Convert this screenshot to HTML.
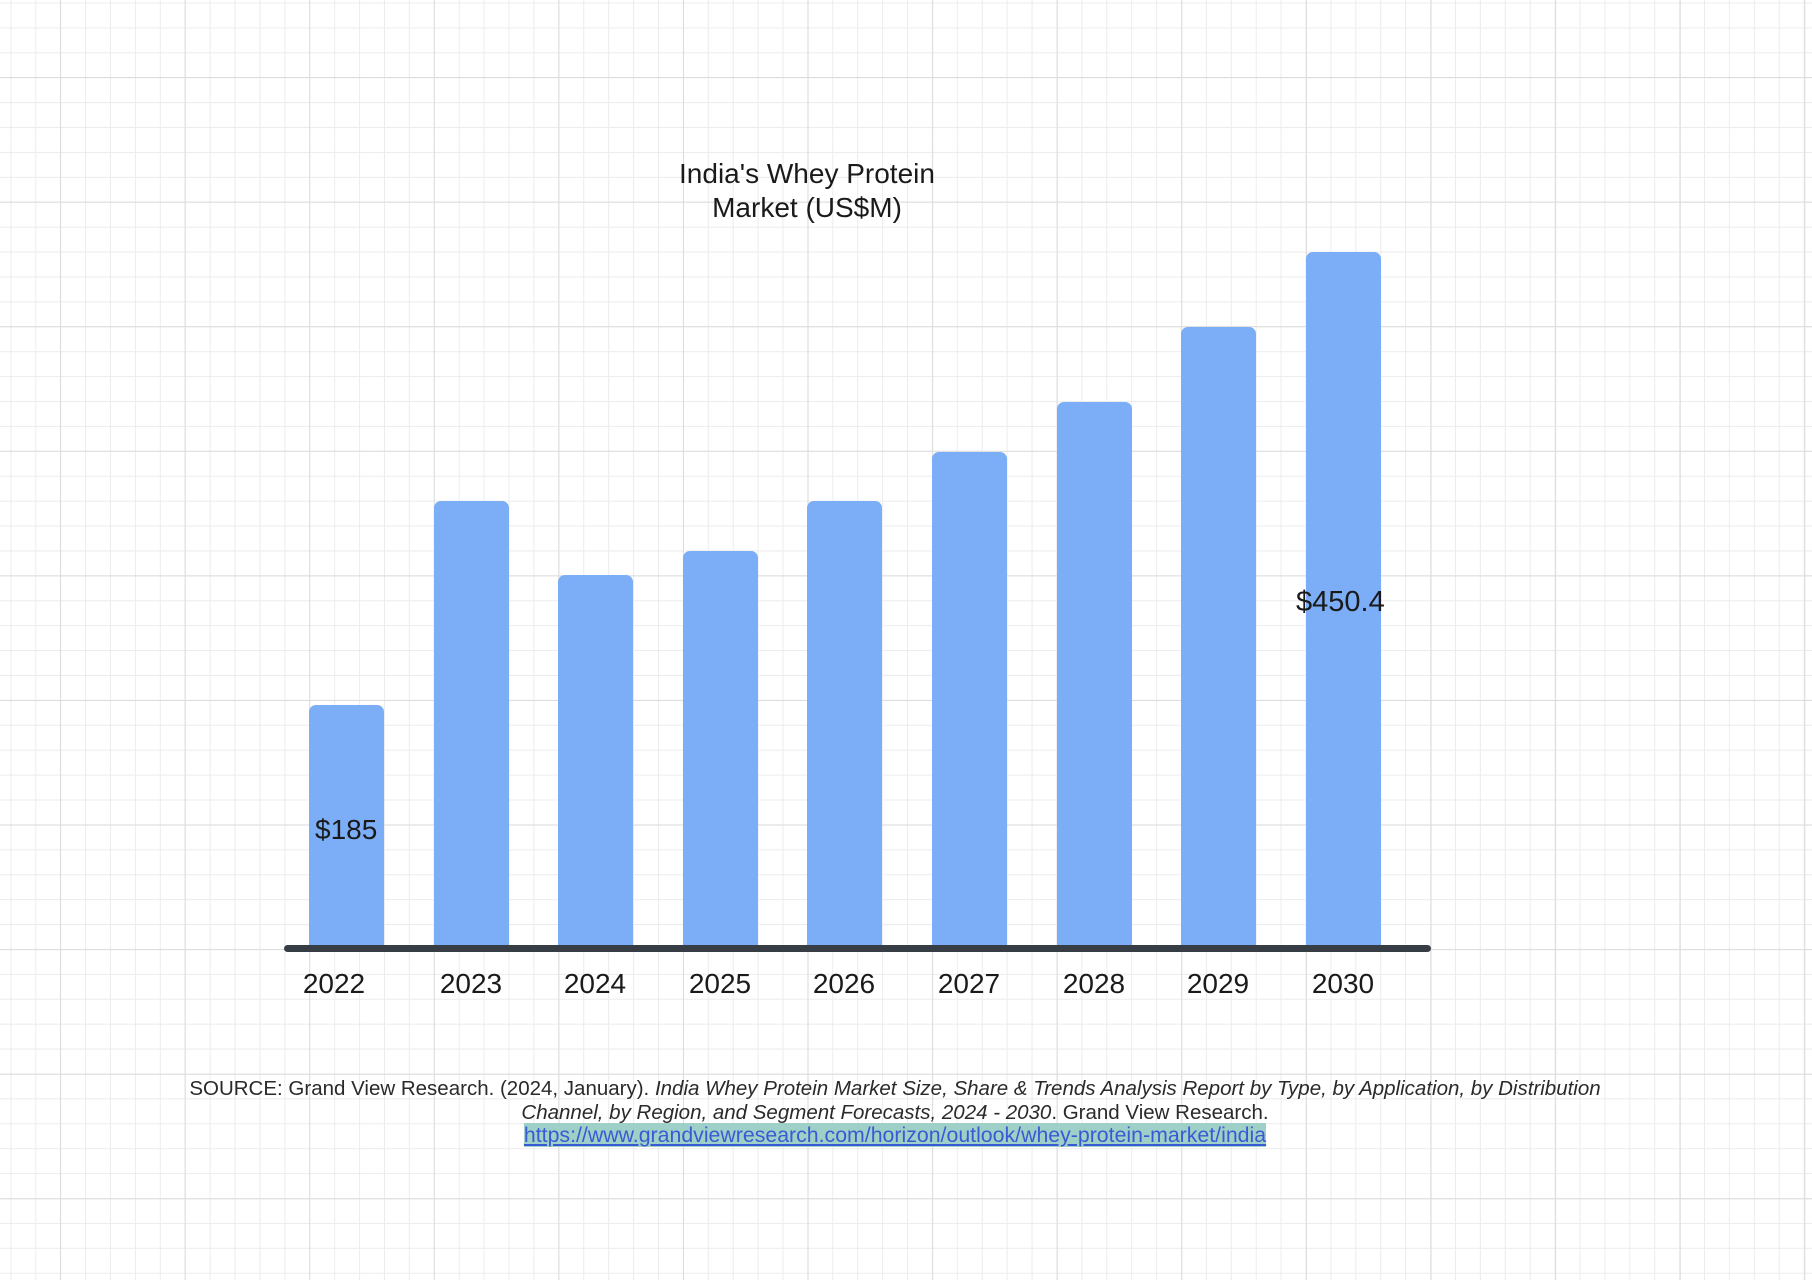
<!DOCTYPE html>
<html><head><meta charset="utf-8"><style>
html,body{margin:0;padding:0;}
body{width:1812px;height:1280px;position:relative;overflow:hidden;background:#fff;font-family:"Liberation Sans",sans-serif;
background-image:
linear-gradient(to right,#dcdcdc 0,#dcdcdc 1px,transparent 1px),
linear-gradient(to bottom,#dcdcdc 0,#dcdcdc 1px,transparent 1px),
linear-gradient(to right,#ececec 0,#ececec 1px,transparent 1px),
linear-gradient(to bottom,#ececec 0,#ececec 1px,transparent 1px);
background-size:124.6px 124.6px,124.6px 124.6px,24.92px 24.92px,24.92px 24.92px;
background-position:60px 0,0 77px,10.4px 0,0 2.5px;}
.bar{position:absolute;width:75px;background:#7baef7;border-radius:7px 7px 0 0;bottom:332px;}
.yr{position:absolute;top:968px;font-size:28px;color:#1a1a1a;width:120px;text-align:center;}
.lbl{position:absolute;font-size:28px;color:#1a1a1a;}
</style></head><body>
<div style="position:absolute;left:607px;top:157px;width:400px;text-align:center;font-size:28px;line-height:34px;color:#1a1a1a;">India's Whey Protein<br>Market (US$M)</div>
<div class="bar" style="left:309px;top:705px"></div>
<div class="bar" style="left:434px;top:501px"></div>
<div class="bar" style="left:558px;top:575px"></div>
<div class="bar" style="left:683px;top:551px"></div>
<div class="bar" style="left:807px;top:501px"></div>
<div class="bar" style="left:932px;top:452px"></div>
<div class="bar" style="left:1057px;top:402px"></div>
<div class="bar" style="left:1181px;top:327px"></div>
<div class="bar" style="left:1306px;top:252px"></div>
<div style="position:absolute;left:284px;top:945px;width:1147px;height:7px;background:#373d45;border-radius:4px;"></div>
<div class="yr" style="left:274px">2022</div>
<div class="yr" style="left:411px">2023</div>
<div class="yr" style="left:535px">2024</div>
<div class="yr" style="left:660px">2025</div>
<div class="yr" style="left:784px">2026</div>
<div class="yr" style="left:909px">2027</div>
<div class="yr" style="left:1034px">2028</div>
<div class="yr" style="left:1158px">2029</div>
<div class="yr" style="left:1283px">2030</div>
<div class="lbl" style="left:315px;top:814px">$185</div>
<div class="lbl" style="left:1296px;top:586px;font-size:29px">$450.4</div>
<div style="position:absolute;left:100px;top:1077px;width:1590px;text-align:center;font-size:20.5px;line-height:23.5px;color:#2a2a2a;">
SOURCE: Grand View Research. (2024, January). <i>India Whey Protein Market Size, Share &amp; Trends Analysis Report by Type, by Application, by Distribution<br>Channel, by Region, and Segment Forecasts, 2024 - 2030</i>. Grand View Research.<br>
<span style="background:#9fd0c8;color:#3a5ad4;text-decoration:underline;font-size:21.3px;">https://www.grandviewresearch.com/horizon/outlook/whey-protein-market/india</span></div>
</body></html>
